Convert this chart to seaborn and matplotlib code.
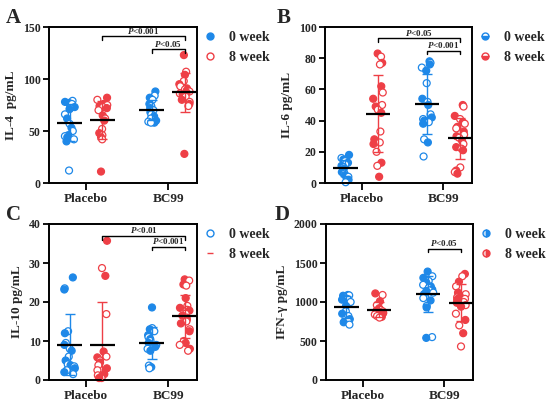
import numpy as np
import pandas as pd
import matplotlib
matplotlib.use("Agg")
import matplotlib.pyplot as plt
import matplotlib.colors as mcolors
from matplotlib.lines import Line2D
import seaborn as sns

# ---------------- data ----------------
groups = ["Placebo", "BC99"]
weeks = ["0 week", "8 week"]

il4_placebo_0w = [78, 79, 77, 76, 73, 72, 71, 66, 62, 57, 53, 50, 46, 45, 44, 42, 40, 12]
il4_placebo_8w = [82, 80, 76, 75, 74, 73, 72, 70, 65, 62, 60, 52, 48, 46, 44, 42, 11]
il4_bc99_0w = [88, 84, 82, 80, 76, 74, 72, 70, 68, 66, 64, 62, 60, 59, 58, 58]
il4_bc99_8w = [123, 107, 104, 98, 95, 93, 91, 90, 89, 88, 87, 86, 85, 83, 80, 78, 76, 74, 28]

il6_placebo_0w = [18, 16, 15, 14, 13, 12, 11, 10, 9, 8, 7, 6, 5, 4, 2, 0.5]
il6_placebo_8w = [83, 81, 77, 76, 62, 58, 54, 50, 49, 47, 45, 33, 28, 26, 25, 20, 13, 11, 4]
il6_bc99_0w = [78, 77, 76, 74, 72, 64, 54, 52, 50, 44, 42, 41, 40, 39, 38, 28, 26, 17]
il6_bc99_8w = [50, 49, 43, 41, 39, 38, 36, 35, 33, 31, 30, 29, 27, 25, 23, 22, 21, 10, 8, 7, 6]

il10_placebo_0w = [26.3, 23.5, 23.2, 12.5, 12, 9.5, 9, 8, 7.5, 6, 5, 4, 3.8, 3.5, 3, 2.5, 2, 1.5]
il10_placebo_8w = [35.7, 28.7, 26.7, 16.9, 7.3, 6, 5.8, 5, 4.5, 3.8, 3, 2.5, 1.5, 1.2, 0.8, 0.5, 0.5]
il10_bc99_0w = [18.6, 13.3, 13, 12.5, 11.5, 11, 10.5, 10, 9.5, 9, 8.5, 8, 7.5, 3.7, 3.3, 3]
il10_bc99_8w = [25.8, 25.5, 24.5, 24.2, 21, 19, 18.5, 18, 17.8, 17, 16.5, 16, 15.5, 15, 14.5,
                13, 12.5, 10, 9.5, 9, 8, 7.5]

ifn_placebo_0w = [1090, 1085, 1080, 1060, 1050, 1040, 1030, 1000, 950, 880, 850, 820, 780, 760, 740, 710]
ifn_placebo_8w = [1110, 1090, 1010, 960, 920, 900, 890, 880, 870, 860, 850, 840, 830, 820, 810, 800]
ifn_bc99_0w = [1390, 1330, 1310, 1270, 1250, 1220, 1200, 1180, 1160, 1150, 1140, 1120, 1100,
               1050, 1020, 950, 930, 550, 540]
ifn_bc99_8w = [1360, 1330, 1260, 1200, 1120, 1100, 1080, 1060, 1050, 1040, 1030, 1000, 990,
               960, 940, 850, 770, 700, 600, 430]

panel_letters = ["A", "B", "C", "D"]
ylabels = ["IL-4  pg/mL", "IL-6 pg/mL", "IL-10 pg/mL", "IFN-\u03b3 pg/mL"]
ymax_list = [150, 100, 40, 2000]
ystep_list = [50, 20, 10, 500]

# brackets: (x1, x2, y, label)
brackets_A = [(0.2, 1.2, 141, "$P$<0.001"), (0.8, 1.2, 128.5, "$P$<0.05")]
brackets_B = [(0.2, 1.2, 92.7, "$P$<0.05"), (0.8, 1.2, 84.8, "$P$<0.001")]
brackets_C = [(0.2, 1.2, 36.9, "$P$<0.01"), (0.8, 1.2, 34.1, "$P$<0.001")]
brackets_D = [(0.8, 1.2, 1680, "$P$<0.05")]

# ---------------- style ----------------
sns.set_theme(style="ticks")
plt.rcParams["font.family"] = ["Liberation Serif", "DejaVu Serif"]
plt.rcParams["font.weight"] = "bold"
plt.rcParams["axes.labelweight"] = "bold"
plt.rcParams["mathtext.fontset"] = "custom"
plt.rcParams["mathtext.it"] = "Liberation Serif:italic:bold"
plt.rcParams["mathtext.rm"] = "Liberation Serif:bold"
plt.rcParams["mathtext.default"] = "it"

BLUE = "#1E88E8"
RED = "#EE3F46"

fig = plt.figure(figsize=(5.5, 4.05), dpi=100)

W, H = 550.0, 405.0
axes_px = [(49, 27, 148, 156), (325, 27, 147, 156), (49, 224, 148, 156), (326, 224, 147, 156)]
letter_px = [(6, 8), (277, 8), (6, 205), (275, 205)]

panel_data = [
    {("Placebo", "0 week"): il4_placebo_0w, ("Placebo", "8 week"): il4_placebo_8w,
     ("BC99", "0 week"): il4_bc99_0w, ("BC99", "8 week"): il4_bc99_8w},
    {("Placebo", "0 week"): il6_placebo_0w, ("Placebo", "8 week"): il6_placebo_8w,
     ("BC99", "0 week"): il6_bc99_0w, ("BC99", "8 week"): il6_bc99_8w},
    {("Placebo", "0 week"): il10_placebo_0w, ("Placebo", "8 week"): il10_placebo_8w,
     ("BC99", "0 week"): il10_bc99_0w, ("BC99", "8 week"): il10_bc99_8w},
    {("Placebo", "0 week"): ifn_placebo_0w, ("Placebo", "8 week"): ifn_placebo_8w,
     ("BC99", "0 week"): ifn_bc99_0w, ("BC99", "8 week"): ifn_bc99_8w},
]
panel_brackets = [brackets_A, brackets_B, brackets_C, brackets_D]


def legend_handles(idx):
    if idx == 0:
        h0 = Line2D([], [], marker="o", ls="none", color=BLUE, markersize=5)
        h1 = Line2D([], [], marker="o", ls="none", markerfacecolor="white",
                    markeredgecolor=RED, markersize=5)
    elif idx == 1:
        h0 = Line2D([], [], marker="o", ls="none", color=BLUE, fillstyle="bottom",
                    markerfacecoloralt="white", markersize=5)
        h1 = Line2D([], [], marker="o", ls="none", color=RED, fillstyle="bottom",
                    markerfacecoloralt="white", markersize=5)
    elif idx == 2:
        h0 = Line2D([], [], marker="o", ls="none", markerfacecolor="white",
                    markeredgecolor=BLUE, markersize=5)
        h1 = Line2D([], [], marker="_", ls="none", color=RED, markersize=5)
    else:
        h0 = Line2D([], [], marker="o", ls="none", color=BLUE, fillstyle="right",
                    markerfacecoloralt="#bcdcf8", markersize=5)
        h1 = Line2D([], [], marker="o", ls="none", color=RED, fillstyle="right",
                    markerfacecoloralt="#f8c4c6", markersize=5)
    return [h0, h1]


blue_rgba = np.array(mcolors.to_rgba(BLUE))
np.random.seed(7)

for i in range(4):
    lx, ty, pw, ph = axes_px[i]
    ax = fig.add_axes([lx / W, 1 - (ty + ph) / H, pw / W, ph / H])
    data = panel_data[i]
    rows = []
    for g in groups:
        for w in weeks:
            for v in data[(g, w)]:
                rows.append((g, w, v))
    df = pd.DataFrame(rows, columns=["group", "week", "value"])

    sns.stripplot(data=df, x="group", y="value", hue="week", order=groups,
                  hue_order=weeks, palette=[BLUE, RED], dodge=True, jitter=0.13,
                  size=5, linewidth=0.9, legend=False, ax=ax, zorder=2,
                  clip_on=False)

    for coll in ax.collections:
        fcs = coll.get_facecolors()
        n = len(coll.get_offsets())
        if n == 0 or len(fcs) == 0:
            continue
        col = BLUE if np.allclose(fcs[0], blue_rgba, atol=0.02) else RED
        coll.set_facecolors([col if k % 2 == 0 else "white" for k in range(n)])
        coll.set_edgecolors(col)

    for gi, g in enumerate(groups):
        for wi, w in enumerate(weeks):
            vals = np.asarray(data[(g, w)], dtype=float)
            x = gi + (-0.2 if wi == 0 else 0.2)
            c = BLUE if wi == 0 else RED
            m = vals.mean()
            sd = vals.std(ddof=1)
            ax.errorbar([x], [m], yerr=[sd], fmt="none", ecolor=c, elinewidth=1.0,
                        capsize=3.5, capthick=1.0, zorder=3)
            ax.plot([x - 0.15, x + 0.15], [m, m], color="black", lw=1.6, zorder=4,
                    solid_capstyle="butt")

    ymax = ymax_list[i]
    for (x1, x2, y, lab) in panel_brackets[i]:
        h = ymax * 0.022
        ax.plot([x1, x1, x2, x2], [y - h, y, y, y - h], color="black", lw=1.0,
                clip_on=False, zorder=5)
        ax.text((x1 + x2) / 2, y + ymax * 0.004, lab, ha="center", va="bottom",
                fontsize=6.5, fontweight="bold")

    ax.set_xlim(-0.45, 1.35)
    ax.set_ylim(0, ymax)
    ax.set_yticks(np.arange(0, ymax + 1, ystep_list[i]))
    ax.set_xticks([0, 1])
    ax.set_xticklabels(groups)
    ax.set_xlabel("")
    ax.set_ylabel(ylabels[i], fontsize=9.5, fontweight="bold", labelpad=4)
    for sp in ax.spines.values():
        sp.set_visible(True)
        sp.set_linewidth(1.4)
        sp.set_color("black")
    ax.tick_params(axis="both", which="major", direction="out", width=1.3,
                   length=4, labelsize=8.5, color="black", pad=2)
    ax.tick_params(axis="x", length=5, labelsize=9.5)
    for lab in ax.get_xticklabels() + ax.get_yticklabels():
        lab.set_fontweight("bold")

    ax.legend(legend_handles(i), weeks, loc="upper left",
              bbox_to_anchor=(1.04, 0.975), frameon=False,
              borderpad=0, borderaxespad=0, handlelength=1.0,
              handletextpad=0.9, labelspacing=0.5,
              prop={"weight": "bold", "size": 10})

    fx, fy = letter_px[i]
    fig.text(fx / W, 1 - fy / H, panel_letters[i], fontsize=15, fontweight="bold",
             ha="left", va="top")

fig.savefig("out.png", dpi=100)
